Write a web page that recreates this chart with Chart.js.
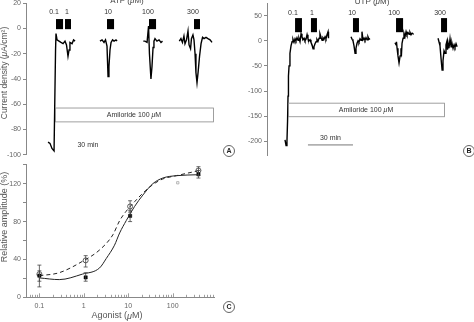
<!DOCTYPE html>
<html lang="en">
<head>
<meta charset="UTF-8">
<title>ATP / UTP short-circuit current</title>
<script src="https://cdn.jsdelivr.net/npm/chart.js@4.4.1/dist/chart.umd.min.js"></script>
<style>
  html, body { margin: 0; padding: 0; background: #fff; }
  #wrap { position: relative; width: 474px; height: 322px; overflow: hidden; }
  canvas { position: absolute; }
</style>
</head>
<body>
<div id="wrap">
  <canvas id="chartA" width="240" height="160" style="left:0;top:0"></canvas>
  <canvas id="chartB" width="234" height="160" style="left:240px;top:0"></canvas>
  <canvas id="chartC" width="240" height="162" style="left:0;top:160px"></canvas>
</div>

<script>
// ---- panel A : ATP, time (min) vs current density (uA/cm2), null = gap between recordings
var atpT = [14.7,16.0,17.3,18.7,19.3,19.7,20.0,20.7,22.0,23.3,24.7,26.0,27.0,28.0,28.7,29.3,30.7,31.7,32.7, 33.5,
            49.3,50.7,52.0,53.0,54.0,54.7,55.3,56.0,56.7,57.7,58.7,60.0,60.7, 61.5,
            78.2,79.3,80.7,81.7,82.3,83.3,84.0,84.7,85.3,86.0,87.3,88.7,90.0,91.0, 92.0,
            102.2,103.3,104.3,105.3,106.0,107.0,108.0,108.7,109.7,110.3,111.3,112.0,112.7,113.3,114.0,114.7,115.7,116.7,117.7,118.7,120.0,121.3,122.7,124.0];
var atpI = [-90,-91,-95,-97,-97,-17,-4,-9,-10,-11,-12,-10,-13,-22,-17,-11,-12,-9,-10, null,
            -10,-9,-11,-9,-14,-38,-30,-17,-11,-9,-10,-9,-10, null,
            -10,-10,-11,2,-20,-40,-30,-15,-10,-8,-10,-9,-11,-10, null,
            -10,-8,-11,-6,-12,-9,-2,-13,-16,-8,-5,-9,-20,-35,-43,-35,-22,-12,-7,-8,-7,-8,-9,-11];
var atpTicks = [20, 0, -20, -40, -60, -80, -100];
var doses = ['0.1', '1', '10', '100', '300'];
var atpDoseT = [18.7, 27.3, 54.7, 81.3, 111.3];
var atpPulseStart = [20.0, 26.0, 54.0, 82.0, 112.0];
var atpPulseEnd = [24.7, 30.0, 58.7, 86.7, 116.0];
var atpPulseLevel = [7.5, -0.5];
var atpAmiloride = [19.3, 124.7, -63, -74];   // from, to, top, bottom

// ---- panel B : UTP
var utpT = [12.0,12.7,13.3,13.7,14.0,14.3,14.7,15.3,16.0,16.7,17.3,18.0,18.7,19.3,20.0,20.7,21.3,22.0,22.7,23.3,
            24.0,24.7,25.3,26.0,26.7,27.3,28.0,28.7,29.3,30.0,30.7,31.3,32.0,32.7,33.3,34.0,34.7,35.3,36.0,36.7,
            37.3,38.0,38.7,39.3,40.0,40.7,41.0, 42.0,
            56.0,56.7,57.3,58.0,58.7,59.3,60.0,60.7,61.3,62.0,62.7,63.3,64.0,64.7,65.3,66.0,66.7,67.3,68.0,68.7, 69.5,
            85.3,86.0,86.3,86.7,87.3,88.0,88.7,89.3,89.7,90.0,90.7,91.3,92.0,92.7,93.3,94.0,94.7,95.3,96.0,96.7,97.3, 98.0,
            114.0,114.7,115.3,116.0,116.7,117.3,118.0,118.7,119.3,120.0,120.3,120.7,121.3,122.0,122.7,123.3,124.0,124.7,125.3,126.0,126.7];
var utpI = [-197,-208,-200,-160,-110,-70,-50,-25,-10,-2,3,-3,4,0,6,1,5,-2,14,8,
            2,5,0,3,12,4,0,2,-3,-8,-16,-12,-6,-2,3,-1,5,14,7,1,
            6,3,8,4,12,18,5, null,
            8,3,0,-10,-25,-15,-5,0,-3,4,1,18,2,5,1,6,2,8,3,4, null,
            -4,-8,-2,-15,-30,-44,-30,-15,-22,-5,5,15,8,18,12,16,13,17,12,15,14, null,
            5,-3,-10,-35,-58,-40,-20,-25,-8,0,-18,-5,-15,4,-12,-5,-15,-8,-13,-6,-12];
var utpTicks = [50, 0, -50, -100, -150, -200];
var utpDoseT = [17.3, 30.0, 56.7, 84.7, 115.3];
var utpPulseStart = [18.7, 29.3, 57.3, 86.0, 116.0];
var utpPulseEnd = [23.3, 33.3, 61.3, 90.7, 120.0];
var utpPulseLevel = [45, 17];
var utpAmiloride = [14.0, 118.0, -124, -151];
var utpScaleBar = [27.3, 57.3, -207];          // 30 min

// ---- panel C : dose response, relative amplitude (%)
var agonistConc = [0.1, 1.1, 11, 380];
var atpMean = [22.8, 21, 86, 130];
var atpLow  = [17, 17, 80, 126];
var atpHigh = [28, 26, 92, 134];
var utpMean = [24.5, 39, 96, 134];
var utpLow  = [11, 32, 90, 129];
var utpHigh = [34, 44, 102, 138];
var extraConc = [130], extraAmp = [121];
var atpFitX = [0.1, 0.28, 0.93, 2.26, 3.2, 4.9, 6.4, 9.0, 13.9, 21.3, 35.6, 59.7, 121, 367];
var atpFitY = [20.5, 18.7, 24.5, 31, 41, 55, 68, 81, 96, 108, 120, 126, 128.5, 129.5];
var utpFitX = [0.1, 0.28, 0.93, 2.26, 4.5, 6.4, 9.0, 13.9, 21.3, 35.6, 59.7, 121, 367];
var utpFitY = [22.8, 26, 38, 50, 66, 81, 91, 101, 110, 119, 125, 128.5, 133.6];
var ampTicks = [0, 20, 40, 60, 80, 100, 120, 140];
var ampLabels = [0, 40, 80, 120];
var concMajor = [0.1, 1, 10, 100];

var FONT = '"Liberation Sans", Arial, sans-serif';
var GREY = '#666';

function pts(xs, ys) { return xs.map(function (x, i) { return { x: x, y: ys[i] }; }); }

// text made of pieces, some italic (the mu)
function richText(ctx, parts, x, y, size) {
  var w = 0;
  parts.forEach(function (p) { ctx.font = (p[1] ? 'italic ' : '') + size + 'px ' + FONT; w += ctx.measureText(p[0]).width; });
  var cx = x - w / 2;
  ctx.textAlign = 'left';
  ctx.textBaseline = 'middle';
  parts.forEach(function (p) {
    ctx.font = (p[1] ? 'italic ' : '') + size + 'px ' + FONT;
    ctx.fillText(p[0], cx, y);
    cx += ctx.measureText(p[0]).width;
  });
}

function circledLetter(ctx, letter, x, y) {
  ctx.strokeStyle = '#555';
  ctx.lineWidth = 0.9;
  ctx.beginPath();
  ctx.arc(x, y, 5.5, 0, Math.PI * 2);
  ctx.stroke();
  ctx.fillStyle = '#222';
  ctx.font = 'bold 7px ' + FONT;
  ctx.textAlign = 'center';
  ctx.textBaseline = 'middle';
  ctx.fillText(letter, x, y + 0.5);
}

// pulses, dose labels, amiloride bar, time bar, panel letter
function tracePlugin(o) {
  return {
    id: 'trace' + o.letter,
    afterDatasetsDraw: function (chart) {
      var ctx = chart.ctx, x = chart.scales.x, y = chart.scales.y;
      ctx.save();
      ctx.fillStyle = '#000';
      o.pulseStart.forEach(function (t0, i) {
        var x0 = x.getPixelForValue(t0), x1 = x.getPixelForValue(o.pulseEnd[i]);
        var y0 = y.getPixelForValue(o.pulseLevel[0]), y1 = y.getPixelForValue(o.pulseLevel[1]);
        ctx.fillRect(x0, y0, x1 - x0, y1 - y0);
      });
      ctx.fillStyle = '#333';
      ctx.font = '7px ' + FONT;
      ctx.textAlign = 'center';
      ctx.textBaseline = 'middle';
      doses.forEach(function (d, i) {
        ctx.fillText(d, x.getPixelForValue(o.doseT[i]), y.getPixelForValue(o.doseY));
      });
      ctx.fillStyle = '#444';
      richText(ctx, [[o.agonist + ' (', false], ['\u03bc', true], ['M)', false]],
        x.getPixelForValue(o.titleT), y.getPixelForValue(o.titleY), 8);

      var a = o.amiloride;
      var ax0 = x.getPixelForValue(a[0]), ax1 = x.getPixelForValue(a[1]);
      var ay0 = y.getPixelForValue(a[2]), ay1 = y.getPixelForValue(a[3]);
      ctx.strokeStyle = '#888';
      ctx.lineWidth = 0.8;
      ctx.strokeRect(ax0 + 0.5, ay0, ax1 - ax0, ay1 - ay0);
      ctx.fillStyle = '#333';
      richText(ctx, [['Amiloride 100 ', false], ['\u03bc', true], ['M', false]], (ax0 + ax1) / 2, (ay0 + ay1) / 2, 7);

      if (o.scaleBar) {
        var sy = y.getPixelForValue(o.scaleBar[2]);
        ctx.strokeStyle = '#555';
        ctx.lineWidth = 0.8;
        ctx.beginPath();
        ctx.moveTo(x.getPixelForValue(o.scaleBar[0]), sy);
        ctx.lineTo(x.getPixelForValue(o.scaleBar[1]), sy);
        ctx.stroke();
      }
      ctx.fillStyle = '#333';
      ctx.font = '7px ' + FONT;
      ctx.textAlign = 'center';
      ctx.fillText('30 min', x.getPixelForValue(o.minLabel[0]), y.getPixelForValue(o.minLabel[1]));

      circledLetter(ctx, o.letter, o.letterPos[0], o.letterPos[1]);

      if (o.yTitle) {
        ctx.translate(o.yTitle[0], o.yTitle[1]);
        ctx.rotate(-Math.PI / 2);
        ctx.fillStyle = '#555';
        richText(ctx, [['Current density (', false], ['\u03bc', true], ['A/cm\u00b2)', false]], 0, 0, 8.5);
      }
      ctx.restore();
    }
  };
}

function yAxis(ticks, min, max, width) {
  return {
    min: min, max: max,
    afterBuildTicks: function (s) { s.ticks = ticks.map(function (v) { return { value: v }; }); },
    afterFit: function (s) { s.width = width; s.paddingTop = 0; s.paddingBottom = 0; },
    border: { color: '#888', width: 1 },
    grid: { drawOnChartArea: false, drawTicks: true, tickLength: 3, color: '#888' },
    ticks: { color: GREY, font: { family: FONT, size: 7 }, padding: 2, autoSkip: false }
  };
}

function traceChart(id, t, cur, yCfg, right, pad, plugin) {
  return new Chart(document.getElementById(id), {
    type: 'line',
    data: { datasets: [{
      data: pts(t, cur), borderColor: '#000', borderWidth: 1.4,
      pointRadius: 0, tension: 0, spanGaps: false
    }] },
    options: {
      responsive: false, animation: false, events: [],
      plugins: { legend: { display: false }, tooltip: { enabled: false } },
      layout: { padding: pad },
      scales: {
        x: { type: 'linear', display: false, min: 0, max: right },
        y: yCfg
      }
    },
    plugins: [plugin]
  });
}

traceChart('chartA', atpT, atpI, yAxis(atpTicks, -100, 20, 26), 140,
  { top: 3.3, right: 4, bottom: 5.3, left: 0 },
  tracePlugin({
    letter: 'A', agonist: 'ATP', doseT: atpDoseT, doseY: 13, titleT: 67.3, titleY: 21.8,
    pulseStart: atpPulseStart, pulseEnd: atpPulseEnd, pulseLevel: atpPulseLevel,
    amiloride: atpAmiloride, minLabel: [41.3, -92.5], letterPos: [229, 151], yTitle: [5, 73]
  }));

traceChart('chartB', utpT, utpI, yAxis(utpTicks, -227, 75, 27), 135.3,
  { top: 3, right: 4, bottom: 5, left: 0 },
  tracePlugin({
    letter: 'B', agonist: 'UTP', doseT: utpDoseT, doseY: 55, titleT: 70, titleY: 77,
    pulseStart: utpPulseStart, pulseEnd: utpPulseEnd, pulseLevel: utpPulseLevel,
    amiloride: utpAmiloride, scaleBar: utpScaleBar, minLabel: [42.3, -193], letterPos: [229, 151]
  }));

// ---- panel C
var errPlugin = {
  id: 'errC',
  afterDatasetsDraw: function (chart) {
    var ctx = chart.ctx, x = chart.scales.x, y = chart.scales.y;
    ctx.save();
    // concentration ticks point up into the plot, decades a little longer
    var base = chart.chartArea.bottom;
    ctx.strokeStyle = '#888';
    ctx.lineWidth = 0.8;
    x.ticks.forEach(function (tk) {
      var px = Math.round(x.getPixelForValue(tk.value)) + 0.5;
      var len = concMajor.indexOf(tk.value) >= 0 ? 4 : 2.5;
      ctx.beginPath();
      ctx.moveTo(px, base);
      ctx.lineTo(px, base - len);
      ctx.stroke();
    });

    ctx.strokeStyle = '#444';
    [[atpLow, atpHigh], [utpLow, utpHigh]].forEach(function (e) {
      agonistConc.forEach(function (c, i) {
        var px = x.getPixelForValue(c), lo = y.getPixelForValue(e[0][i]), hi = y.getPixelForValue(e[1][i]);
        ctx.beginPath();
        ctx.moveTo(px, lo); ctx.lineTo(px, hi);
        ctx.moveTo(px - 2, lo); ctx.lineTo(px + 2, lo);
        ctx.moveTo(px - 2, hi); ctx.lineTo(px + 2, hi);
        ctx.stroke();
      });
    });
    ctx.fillStyle = '#555';
    richText(ctx, [['Agonist (', false], ['\u03bc', true], ['M)', false]], 117, 156, 9);
    ctx.translate(5, 57);
    ctx.rotate(-Math.PI / 2);
    richText(ctx, [['Relative amplitude (%)', false]], 0, 0, 9);
    ctx.restore();
    ctx.save();
    circledLetter(ctx, 'C', 229, 147);
    ctx.restore();
  }
};

var minorConc = [];
[0.01, 0.1, 1, 10, 100].forEach(function (d) {
  for (var m = 2; m <= 9; m++) {
    var v = +(m * d).toPrecision(2);
    if (v > 0.05 && v < 850) minorConc.push(v);
  }
});

new Chart(document.getElementById('chartC'), {
  type: 'line',
  data: { datasets: [
    { data: pts(atpFitX, atpFitY), borderColor: '#222', borderWidth: 1, pointRadius: 0, cubicInterpolationMode: 'monotone' },
    { data: pts(utpFitX, utpFitY), borderColor: '#222', borderWidth: 1, borderDash: [4, 3], pointRadius: 0, cubicInterpolationMode: 'monotone' },
    { data: pts(agonistConc, atpMean), showLine: false, pointStyle: 'rect', pointRadius: 2.3, backgroundColor: '#000', borderColor: '#000', borderWidth: 0.5 },
    { data: pts(agonistConc, utpMean), showLine: false, pointStyle: 'circle', pointRadius: 2.5, backgroundColor: '#fff', borderColor: '#333', borderWidth: 0.8 },
    { data: pts(extraConc, extraAmp), showLine: false, pointStyle: 'rect', pointRadius: 1.6, backgroundColor: '#fff', borderColor: '#999', borderWidth: 0.7 }
  ] },
  options: {
    responsive: false, animation: false, events: [],
    plugins: { legend: { display: false }, tooltip: { enabled: false } },
    layout: { padding: { top: 0.5, right: 26, bottom: 0, left: 0 } },
    scales: {
      x: {
        type: 'logarithmic', min: 0.05, max: 850,
        afterBuildTicks: function (s) {
          s.ticks = concMajor.concat(minorConc).sort(function (a, b) { return a - b; })
            .map(function (v) { return { value: v }; });
        },
        afterFit: function (s) { s.height = 24.7; s.paddingLeft = 0; s.paddingRight = 0; },
        border: { color: '#888', width: 1 },
        grid: { drawOnChartArea: false, drawTicks: false },
        ticks: {
          color: GREY, font: { family: FONT, size: 7 }, padding: 5, autoSkip: false, maxRotation: 0,
          callback: function (v) { return concMajor.indexOf(v) >= 0 ? String(v) : ''; }
        }
      },
      y: {
        min: 0, max: 140,
        afterBuildTicks: function (s) { s.ticks = ampTicks.map(function (v) { return { value: v }; }); },
        afterFit: function (s) { s.width = 26; s.paddingTop = 0; s.paddingBottom = 0; },
        border: { color: '#888', width: 1 },
        grid: { drawOnChartArea: false, drawTicks: true, tickLength: 3, color: '#888' },
        ticks: {
          color: GREY, font: { family: FONT, size: 7 }, padding: 2, autoSkip: false,
          callback: function (v) { return ampLabels.indexOf(v) >= 0 ? String(v) : ''; }
        }
      }
    }
  },
  plugins: [errPlugin]
});
</script>
</body>
</html>
